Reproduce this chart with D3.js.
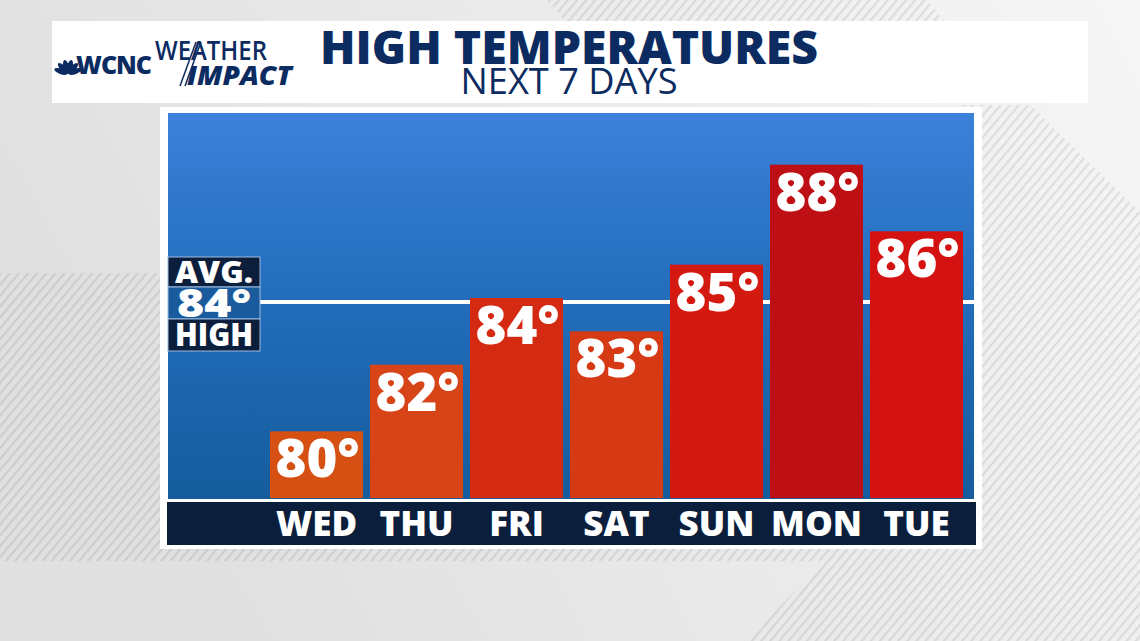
<!DOCTYPE html>
<html>
<head>
<meta charset="utf-8">
<script src="https://cdn.jsdelivr.net/npm/d3@7"></script>
<style>
  html, body { margin: 0; padding: 0; background: #e8e8e8; }
  svg { display: block; }
  text { font-family: "Open Sans", "Liberation Sans", sans-serif; }
</style>
</head>
<body>
<svg id="chart" width="1140" height="641"></svg>
<script>
// ---- data ----
const days = ["WED", "THU", "FRI", "SAT", "SUN", "MON", "TUE"];
const highs = [80, 82, 84, 83, 85, 88, 86];
const avgHigh = 84;
const barColors = ["#d55012", "#d64418", "#d52a12", "#d53a14", "#d41a10", "#be1014", "#d41212"];
const title = "HIGH TEMPERATURES";
const subtitle = "NEXT 7 DAYS";
const avgLabels = ["AVG.", avgHigh + "°", "HIGH"];

const W = 1140, H = 641;
const svg = d3.select("#chart");
const defs = svg.append("defs");

// background gradient
const bg = defs.append("linearGradient").attr("id", "bgGrad")
  .attr("x1", "0").attr("y1", "0.3").attr("x2", "1").attr("y2", "0");
bg.append("stop").attr("offset", "0").attr("stop-color", "#e0e0e0");
bg.append("stop").attr("offset", "0.55").attr("stop-color", "#ececec");
bg.append("stop").attr("offset", "1").attr("stop-color", "#f6f6f6");

const hatch = defs.append("pattern").attr("id", "hatch")
  .attr("patternUnits", "userSpaceOnUse").attr("width", 7).attr("height", 7)
  .attr("patternTransform", "rotate(40)");
hatch.append("rect").attr("x", 0).attr("y", 0).attr("width", 2.2).attr("height", 7)
  .attr("fill", "rgba(0,0,0,0.085)");

const panelGrad = defs.append("linearGradient").attr("id", "panelGrad")
  .attr("x1", "0").attr("y1", "0").attr("x2", "0").attr("y2", "1");
panelGrad.append("stop").attr("offset", "0").attr("stop-color", "#3b81da");
panelGrad.append("stop").attr("offset", "0.5").attr("stop-color", "#226cba");
panelGrad.append("stop").attr("offset", "1").attr("stop-color", "#155d9d");

svg.append("rect").attr("width", W).attr("height", H).attr("fill", "url(#bgGrad)");

// hatched regions
svg.append("path").attr("fill", "url(#hatch)")
  .attr("d", "M0,273 L960,273 L960,105 L1030,105 L1140,212 L1140,641 L745,641 L825,561 L0,561 Z");
svg.append("path").attr("fill", "url(#hatch)")
  .attr("d", "M547,0 L927,0 L944,21 L565,21 Z");

// header
svg.append("rect").attr("x", 52).attr("y", 21).attr("width", 1036).attr("height", 82).attr("fill", "#ffffff");
const navy = "#0c2b61";
svg.append("text").attr("x", 569).attr("y", 64).attr("text-anchor", "middle")
  .attr("font-size", 46).attr("font-weight", 800).attr("fill", navy)
  .attr("textLength", 498).attr("lengthAdjust", "spacingAndGlyphs").text(title);
svg.append("text").attr("x", 569).attr("y", 94).attr("text-anchor", "middle")
  .attr("font-size", 36).attr("font-weight", 400).attr("fill", navy)
  .attr("textLength", 217).attr("lengthAdjust", "spacingAndGlyphs").text(subtitle);

// logo
const logo = svg.append("g");
const pc = [68, 74];
d3.range(6).forEach(i => {
  const a = -160 + i * 28;
  logo.append("ellipse").attr("cx", 0).attr("cy", -7.5).attr("rx", 2.8).attr("ry", 7)
    .attr("fill", navy)
    .attr("transform", `translate(${pc[0]},${pc[1]}) rotate(${a + 90})`);
});
logo.append("text").attr("x", 76).attr("y", 74).attr("font-size", 25).attr("font-weight", 800)
  .attr("fill", navy).attr("letter-spacing", -1)
  .attr("textLength", 75).attr("lengthAdjust", "spacingAndGlyphs").text("WCNC");
logo.append("text").attr("x", 155).attr("y", 60).attr("font-size", 27).attr("font-weight", 600)
  .attr("fill", navy).attr("textLength", 112).attr("lengthAdjust", "spacingAndGlyphs").text("WEATHER");
logo.append("text").attr("x", 187).attr("y", 85).attr("font-size", 26).attr("font-weight", 800)
  .attr("font-style", "italic").attr("fill", navy)
  .attr("textLength", 105).attr("lengthAdjust", "spacingAndGlyphs").text("IMPACT");
logo.append("line").attr("x1", 196).attr("y1", 42).attr("x2", 180).attr("y2", 86)
  .attr("stroke", navy).attr("stroke-width", 1.5);
logo.append("line").attr("x1", 201).attr("y1", 42).attr("x2", 185).attr("y2", 86)
  .attr("stroke", navy).attr("stroke-width", 1.5);

// chart frame
svg.append("rect").attr("x", 160).attr("y", 107).attr("width", 822).attr("height", 442).attr("fill", "#ffffff");
svg.append("rect").attr("x", 168).attr("y", 113).attr("width", 806).attr("height", 386).attr("fill", "url(#panelGrad)");

// scales
const x = d3.scaleBand().domain(days).range([266.5, 966.5]).paddingInner(0.07).paddingOuter(0.035);
const y = d3.scaleLinear().domain([78, 89.55]).range([498, 113]);
const color = d3.scaleOrdinal().domain(days).range(barColors);

// average line
svg.append("rect").attr("x", 260).attr("y", y(avgHigh) + 2).attr("width", 714).attr("height", 4)
  .attr("fill", "#ffffff");

// bars
const data = days.map((d, i) => ({ day: d, v: highs[i] }));
svg.append("g").selectAll("rect").data(data).join("rect")
  .attr("x", d => x(d.day)).attr("y", d => y(d.v))
  .attr("width", x.bandwidth()).attr("height", d => y(78) - y(d.v))
  .attr("fill", d => color(d.day));
svg.append("g").selectAll("text").data(data).join("text")
  .attr("x", d => x(d.day) + x.bandwidth() / 2 + 1).attr("y", d => y(d.v) + 46)
  .attr("text-anchor", "middle").attr("font-size", 53).attr("font-weight", 800)
  .attr("fill", "#ffffff").attr("textLength", 84).attr("lengthAdjust", "spacingAndGlyphs")
  .text(d => d.v + "°");

// day band
svg.append("rect").attr("x", 167).attr("y", 502).attr("width", 809).attr("height", 43).attr("fill", "#0b1f3d");
const xAxis = d3.axisBottom(x).tickSize(0).tickPadding(0);
const ax = svg.append("g").attr("transform", "translate(0,511)").call(xAxis);
ax.select(".domain").remove();
ax.selectAll("text").attr("font-size", 35).attr("font-weight", 800).attr("fill", "#ffffff")
  .attr("dy", "0.71em").attr("y", 0)
  .style("font-family", "'Open Sans', 'Liberation Sans', sans-serif");

// avg label box
const box = svg.append("g");
const rows = [{ y0: 257, h: 30, fill: "#0b1f3d", fs: 30 }, { y0: 287, h: 32, fill: "#1a5b9e", fs: 38 }, { y0: 319, h: 32, fill: "#0b1f3d", fs: 31 }];
rows.forEach((r, i) => {
  box.append("rect").attr("x", 168).attr("y", r.y0).attr("width", 92).attr("height", r.h)
    .attr("fill", r.fill).attr("stroke", "#9dbbe0").attr("stroke-width", 1);
});
rows.forEach((r, i) => {
  box.append("text").attr("x", 214).attr("y", r.y0 + r.h / 2).attr("dy", "0.36em")
    .attr("text-anchor", "middle").attr("font-size", r.fs).attr("font-weight", 800)
    .attr("fill", "#ffffff").attr("textLength", i === 1 ? 74 : 78).attr("lengthAdjust", "spacingAndGlyphs")
    .text(avgLabels[i]);
});
</script>
</body>
</html>
